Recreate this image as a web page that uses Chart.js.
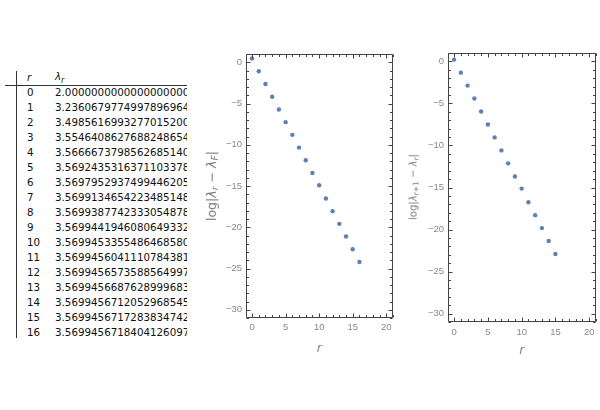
<!DOCTYPE html>
<html>
<head>
<meta charset="utf-8">
<script src="https://cdn.jsdelivr.net/npm/chart.js@4"></script>
<style>
  body { margin: 0; background: #fff; width: 600px; height: 410px; position: relative; overflow: hidden; font-family: "DejaVu Sans", sans-serif; }
  .box { position: absolute; width: 200px; height: 330px; top: 40px; }
  #tbl { position: absolute; left: 0; top: 0; width: 187px; height: 410px; overflow: hidden; font-size: 10.3px; color: #111; }
  .cell { position: absolute; white-space: nowrap; line-height: 15px; }
  .ytitle { position: absolute; transform: translate(-50%, -50%) rotate(-90deg); white-space: nowrap; color: #777; font-family: "DejaVu Sans", sans-serif; }
  .ytitle sub { font-size: 75%; vertical-align: -0.25em; }
</style>
</head>
<body>
<div id="tbl"></div>
<div style="position:absolute;left:5px;top:85px;width:182px;height:1px;background:#333"></div>
<div style="position:absolute;left:16px;top:71px;width:1px;height:267px;background:#333"></div>

<div class="box" style="left:200px"><canvas id="c1"></canvas></div>
<div class="box" style="left:400px"><canvas id="c2"></canvas></div>
<div class="ytitle" style="left:212px;top:186px;font-size:12.5px">log|<i>λ</i><sub><i>r</i></sub> − <i>λ</i><sub><i>F</i></sub>|</div>
<div class="ytitle" style="left:414px;top:187px;font-size:10px">log|<i>λ</i><sub><i>r</i>+1</sub> − <i>λ</i><sub><i>r</i></sub>|</div>

<script>
// Tabelle: r und lambda_r
const rValues = [0, 1, 2, 3, 4, 5, 6, 7, 8, 9, 10, 11, 12, 13, 14, 15, 16];
const lambdaStrings = [
  "2.0000000000000000000",
  "3.2360679774997896964",
  "3.4985616993277015200",
  "3.5546408627688248654",
  "3.5666673798562685140",
  "3.5692435316371103378",
  "3.5697952937499446205",
  "3.5699134654223485148",
  "3.5699387742333054878",
  "3.5699441946080649332",
  "3.5699453355486468580",
  "3.5699456041110784381",
  "3.5699456573588564997",
  "3.5699456687628999683",
  "3.5699456712052968545",
  "3.5699456717283834742",
  "3.5699456718404126097"
];

// log|lambda_r - lambda_F|, r = 0..16
const logDiffF = [0.451, -1.097, -2.640, -4.180, -5.720, -7.261, -8.802, -10.343, -11.884,
                  -13.425, -14.905, -16.507, -18.048, -19.589, -21.130, -22.671, -24.212];
// log|lambda_{r+1} - lambda_r|, r = 0..15
const logDiffStep = [0.212, -1.337, -2.881, -4.421, -5.961, -7.502, -9.043, -10.584,
                     -12.125, -13.684, -15.130, -16.748, -18.289, -19.830, -21.371, -22.912];

const xTicks = [0, 5, 10, 15, 20];
const yTicks = [0, -5, -10, -15, -20, -25, -30];

// Tabelle aufbauen
const tbl = document.getElementById('tbl');
function addCell(html, x, y) {
  const d = document.createElement('div');
  d.className = 'cell';
  d.style.left = x + 'px';
  d.style.top = (y - 7.5) + 'px';
  d.innerHTML = html;
  tbl.appendChild(d);
}
addCell('<i>r</i>', 27, 77);
addCell('<i>λ</i><sub style="font-size:8px"><i>r</i></sub>', 55, 76);
rValues.forEach((r, i) => {
  addCell(String(r), 27, 92 + 15 * i);
  addCell(lambdaStrings[i], 55, 92 + 15 * i);
});

// Rahmen mit Ticks nach innen (wie Mathematica)
const frameTicks = {
  id: 'frameTicks',
  afterDraw(chart) {
    const {ctx, chartArea: a, scales: {x, y}} = chart;
    const L = Math.round(a.left) + 0.5, R = Math.round(a.right) - 0.5;
    const T = Math.round(a.top) + 0.5, B = Math.round(a.bottom) - 0.5;
    ctx.save();
    ctx.strokeStyle = '#444';
    ctx.lineWidth = 1;
    ctx.beginPath();
    ctx.rect(L, T, R - L, B - T);
    for (let v = Math.ceil(x.min); v <= Math.floor(x.max); v++) {
      const px = Math.round(x.getPixelForValue(v)) + 0.5;
      const len = v % 5 === 0 ? 4 : 2.5;
      ctx.moveTo(px, B); ctx.lineTo(px, B - len);
      ctx.moveTo(px, T); ctx.lineTo(px, T + len);
    }
    for (let v = Math.ceil(y.min); v <= Math.floor(y.max); v++) {
      const py = Math.round(y.getPixelForValue(v)) + 0.5;
      const len = v % 5 === 0 ? 4 : 2.5;
      ctx.moveTo(L, py); ctx.lineTo(L + len, py);
      ctx.moveTo(R, py); ctx.lineTo(R - len, py);
    }
    ctx.stroke();
    ctx.restore();
  }
};

const tickFont = {family: '"Liberation Sans", sans-serif', size: 9.5};
const minus = v => String(v).replace('-', '\u2212');

function makeChart(id, values, pad, yWidth, xHeight, tickPadX, tickPadY, titlePad) {
  new Chart(document.getElementById(id), {
    type: 'scatter',
    data: {
      datasets: [{
        data: values.map((v, i) => ({x: rValues[i], y: v})),
        backgroundColor: '#5E81B5',
        borderColor: '#5E81B5',
        pointRadius: 2.2,
        pointBorderWidth: 0
      }]
    },
    options: {
      responsive: true,
      maintainAspectRatio: false,
      animation: false,
      devicePixelRatio: 1,
      layout: {padding: pad},
      plugins: {legend: {display: false}, tooltip: {enabled: false}},
      scales: {
        x: {
          type: 'linear', min: -0.9, max: 21,
          grid: {display: false, drawTicks: false},
          border: {display: false},
          afterBuildTicks: s => { s.ticks = xTicks.map(v => ({value: v})); },
          afterFit: s => { s.height = xHeight; s.paddingLeft = 0; s.paddingRight = 0; },
          ticks: {color: '#888', font: tickFont, padding: tickPadX, maxRotation: 0, callback: minus},
          title: {display: true, text: 'r', color: '#888',
                  font: {family: '"DejaVu Sans", sans-serif', size: 13, style: 'italic'},
                  padding: {top: 0, bottom: titlePad}}
        },
        y: {
          type: 'linear', min: -31, max: 1,
          grid: {display: false, drawTicks: false},
          border: {display: false},
          afterBuildTicks: s => { s.ticks = yTicks.map(v => ({value: v})); },
          afterFit: s => { s.width = yWidth; s.paddingTop = 0; s.paddingBottom = 0; },
          ticks: {color: '#888', font: tickFont, padding: tickPadY, callback: minus}
        }
      }
    },
    plugins: [frameTicks]
  });
}

makeChart('c1', logDiffF, {top: 14, right: 7, left: 0, bottom: 0}, 46, 52, 4, 4, 14);
makeChart('c2', logDiffStep, {top: 13, right: 2, left: 0, bottom: 0}, 48, 48, 5, 4, 12);
</script>
</body>
</html>
